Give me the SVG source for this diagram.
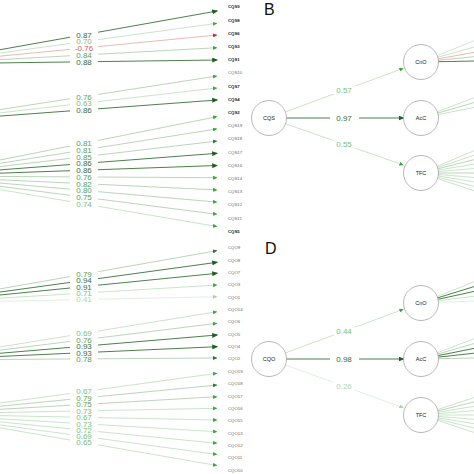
<svg xmlns="http://www.w3.org/2000/svg" width="474" height="474" viewBox="0 0 474 474">
<style>
line{fill:none;stroke-width:0.8}
.d{stroke:#1f5f1f}
.m{stroke:#a9c9a9}
.l{stroke:#bcdcbc}
.v{stroke:#d8ebd8}
.r{stroke:#eaa4a4}
.g{stroke:#cfd8cf}
.ad{marker-end:url(#mk-d)}
.am{marker-end:url(#mk-m)}
.al{marker-end:url(#mk-l)}
.av{marker-end:url(#mk-v)}
.ar{marker-end:url(#mk-r)}
text{font-family:"Liberation Sans",Arial,sans-serif}
.lb{font-size:8px;text-anchor:middle}
.td{fill:#3b6b3b}
.tm{fill:#5a9e5a}
.tl{fill:#7cbd7c}
.tv{fill:#aed6ae}
.tr{fill:#d85c5c}
.it{font-size:4.3px;fill:#666}
.itb{font-size:4.3px;fill:#222;font-weight:bold}
.nd{fill:#fff;stroke:#999;stroke-width:0.7}
.nt{font-size:5.5px;fill:#222;text-anchor:middle}
.pl{font-size:16px;fill:#111}
.bg{fill:#fff}
</style>
<defs>
<marker id="mk-d" viewBox="0 0 10 10" refX="8" refY="5" markerUnits="userSpaceOnUse" markerWidth="6" markerHeight="5" preserveAspectRatio="none" orient="auto"><path d="M0,0 L10,5 L0,10 z" fill="#1f5f1f"/></marker>
<marker id="mk-m" viewBox="0 0 10 10" refX="9" refY="5" markerUnits="userSpaceOnUse" markerWidth="4.5" markerHeight="4" preserveAspectRatio="none" orient="auto"><path d="M0,0 L10,5 L0,10 z" fill="#2e7d2e"/></marker>
<marker id="mk-l" viewBox="0 0 10 10" refX="9" refY="5" markerUnits="userSpaceOnUse" markerWidth="4.5" markerHeight="4" preserveAspectRatio="none" orient="auto"><path d="M0,0 L10,5 L0,10 z" fill="#3aa83a"/></marker>
<marker id="mk-v" viewBox="0 0 10 10" refX="9" refY="5" markerUnits="userSpaceOnUse" markerWidth="4.5" markerHeight="4" preserveAspectRatio="none" orient="auto"><path d="M0,0 L10,5 L0,10 z" fill="#a3d5a3"/></marker>
<marker id="mk-r" viewBox="0 0 10 10" refX="9" refY="5" markerUnits="userSpaceOnUse" markerWidth="4.5" markerHeight="4" preserveAspectRatio="none" orient="auto"><path d="M0,0 L10,5 L0,10 z" fill="#d42a2a"/></marker>
</defs>
<rect width="474" height="474" fill="#fff"/>

<g id="connectors">
<!-- panel A -->
<line x1="-80" y1="64" x2="217" y2="11" class="d ad" stroke-width="1.8"/>
<line x1="-80" y1="64" x2="217" y2="23.3" class="l al"/>
<line x1="-80" y1="64" x2="217" y2="35" class="r ar"/>
<line x1="-80" y1="64" x2="217" y2="47.7" class="m al"/>
<line x1="-80" y1="64" x2="217" y2="60" class="d ad" stroke-width="2.4"/>
<line x1="-80" y1="122" x2="217" y2="76" class="m al"/>
<line x1="-80" y1="122" x2="217" y2="88" class="l al"/>
<line x1="-80" y1="122" x2="217" y2="100" class="d ad" stroke-width="1.5"/>
<line x1="-80" y1="176" x2="217" y2="116.7" class="m al"/>
<line x1="-80" y1="176" x2="217" y2="128.9" class="m al"/>
<line x1="-80" y1="176" x2="217" y2="141.1" class="m am" stroke="#8fb08f"/>
<line x1="-80" y1="176" x2="217" y2="153.3" class="d ad" stroke-width="1.5"/>
<line x1="-80" y1="176" x2="217" y2="165.5" class="d ad" stroke-width="1.5"/>
<line x1="-80" y1="176" x2="217" y2="177.7" class="m al"/>
<line x1="-80" y1="176" x2="217" y2="189.9" class="m al"/>
<line x1="-80" y1="176" x2="217" y2="202.1" class="m al"/>
<line x1="-80" y1="176" x2="217" y2="214.3" class="m al"/>
<line x1="-80" y1="176" x2="217" y2="226.5" class="l al"/>
<!-- panel C -->
<line x1="-80" y1="303" x2="217" y2="250.7" class="m am"/>
<line x1="-80" y1="303" x2="217" y2="262.3" class="d ad" stroke-width="2.5"/>
<line x1="-80" y1="303" x2="217" y2="273.3" class="d ad" stroke-width="2"/>
<line x1="-80" y1="303" x2="217" y2="285" class="l al"/>
<line x1="-80" y1="303" x2="217" y2="296.7" class="v av"/>
<line x1="-80" y1="360" x2="217" y2="311.7" class="l al"/>
<line x1="-80" y1="360" x2="217" y2="323.3" class="m al"/>
<line x1="-80" y1="360" x2="217" y2="335" class="d ad" stroke-width="2.3"/>
<line x1="-80" y1="360" x2="217" y2="346.7" class="d ad" stroke-width="2.3"/>
<line x1="-80" y1="360" x2="217" y2="358" class="m am"/>
<line x1="-80" y1="414" x2="217" y2="373.3" class="l al"/>
<line x1="-80" y1="414" x2="217" y2="385" class="m am"/>
<line x1="-80" y1="414" x2="217" y2="396.7" class="m al"/>
<line x1="-80" y1="414" x2="217" y2="408.3" class="l al"/>
<line x1="-80" y1="414" x2="217" y2="420" class="l al"/>
<line x1="-80" y1="414" x2="217" y2="431.7" class="l al"/>
<line x1="-80" y1="414" x2="217" y2="443.3" class="l al"/>
<line x1="-80" y1="414" x2="217" y2="454.5" class="l al"/>
<line x1="-80" y1="414" x2="217" y2="465.5" class="l al"/>
<!-- panel B -->
<line x1="269" y1="118" x2="403.3" y2="68.3" class="l al"/>
<line x1="269" y1="118" x2="403.3" y2="118" class="d ad" stroke-width="2.6"/>
<line x1="269" y1="118" x2="403.3" y2="165" class="l al"/>
<line x1="421" y1="62" x2="476" y2="40" class="g"/>
<line x1="421" y1="62" x2="476" y2="46.5" class="l"/>
<line x1="421" y1="62" x2="476" y2="52" class="r"/>
<line x1="421" y1="62" x2="476" y2="56.5" class="m"/>
<line x1="421" y1="62" x2="476" y2="61" class="d" stroke-width="1.8"/>
<line x1="421" y1="118" x2="476" y2="97" class="l"/>
<line x1="421" y1="118" x2="476" y2="102" class="m"/>
<line x1="421" y1="118" x2="476" y2="107" class="l"/>
<line x1="421" y1="173" x2="476" y2="150" class="l"/>
<line x1="421" y1="173" x2="476" y2="154.6" class="l"/>
<line x1="421" y1="173" x2="476" y2="159.2" class="m"/>
<line x1="421" y1="173" x2="476" y2="163.8" class="l"/>
<line x1="421" y1="173" x2="476" y2="168.4" class="l"/>
<line x1="421" y1="173" x2="476" y2="173" class="m"/>
<line x1="421" y1="173" x2="476" y2="177.6" class="l"/>
<line x1="421" y1="173" x2="476" y2="182.2" class="l"/>
<line x1="421" y1="173" x2="476" y2="186.8" class="l"/>
<line x1="421" y1="173" x2="476" y2="191.4" class="l"/>
<!-- panel D -->
<line x1="269" y1="359" x2="403.3" y2="309.3" class="l al"/>
<line x1="269" y1="359" x2="403.3" y2="359" class="d ad" stroke-width="2.7"/>
<line x1="269" y1="359" x2="403.3" y2="407.7" class="v av"/>
<line x1="421" y1="303" x2="476" y2="281" class="l"/>
<line x1="421" y1="303" x2="476" y2="286" class="d" stroke-width="2.2"/>
<line x1="421" y1="303" x2="476" y2="291" class="d" stroke-width="1.8"/>
<line x1="421" y1="303" x2="476" y2="296" class="l"/>
<line x1="421" y1="303" x2="476" y2="301" class="v"/>
<line x1="421" y1="359" x2="476" y2="338" class="l"/>
<line x1="421" y1="359" x2="476" y2="343" class="m"/>
<line x1="421" y1="359" x2="476" y2="348" class="d" stroke-width="2"/>
<line x1="421" y1="359" x2="476" y2="353" class="d" stroke-width="2"/>
<line x1="421" y1="359" x2="476" y2="358" class="m"/>
<line x1="421" y1="415" x2="476" y2="397" class="l"/>
<line x1="421" y1="415" x2="476" y2="401.5" class="m"/>
<line x1="421" y1="415" x2="476" y2="406" class="l"/>
<line x1="421" y1="415" x2="476" y2="410.5" class="l"/>
<line x1="421" y1="415" x2="476" y2="415" class="l"/>
<line x1="421" y1="415" x2="476" y2="419.5" class="l"/>
<line x1="421" y1="415" x2="476" y2="424" class="l"/>
<line x1="421" y1="415" x2="476" y2="428.5" class="l"/>
<line x1="421" y1="415" x2="476" y2="433" class="l"/>
</g>

<g id="edge-labels">
<g class="bg">
<rect x="70" y="31" width="28" height="34.5"/>
<rect x="70" y="93" width="28" height="20.5"/>
<rect x="70" y="139.7" width="28" height="67.8"/>
<rect x="70" y="270.5" width="28" height="32.6"/>
<rect x="70" y="329.7" width="28" height="32.8"/>
<rect x="70" y="387.9" width="28" height="58.1"/>
<rect x="330" y="86.3" width="29" height="7.8"/>
<rect x="330" y="114.1" width="29" height="7.8"/>
<rect x="330" y="140.4" width="29" height="7.8"/>
<rect x="330" y="327.3" width="29" height="7.8"/>
<rect x="330" y="355.1" width="29" height="7.8"/>
<rect x="330" y="382.3" width="29" height="7.8"/>
</g>
<text class="lb td" x="84" y="37.6">0.87</text>
<text class="lb tl" x="84" y="44.4">0.70</text>
<text class="lb tr" x="84" y="50.9">-0.76</text>
<text class="lb tm" x="84" y="57.9">0.84</text>
<text class="lb td" x="84" y="64.7">0.88</text>
<text class="lb tm" x="84" y="99.5">0.76</text>
<text class="lb tl" x="84" y="106.1">0.63</text>
<text class="lb td" x="84" y="112.8">0.86</text>
<text class="lb tm" x="84" y="146.2">0.81</text>
<text class="lb tm" x="84" y="152.9">0.81</text>
<text class="lb tm" x="84" y="159.6">0.85</text>
<text class="lb td" x="84" y="166.4">0.86</text>
<text class="lb td" x="84" y="173.1">0.86</text>
<text class="lb tm" x="84" y="179.8">0.76</text>
<text class="lb tm" x="84" y="186.6">0.82</text>
<text class="lb tm" x="84" y="193.3">0.80</text>
<text class="lb tm" x="84" y="200">0.75</text>
<text class="lb tl" x="84" y="206.8">0.74</text>
<text class="lb tm" x="84" y="277">0.79</text>
<text class="lb td" x="84" y="283.4">0.94</text>
<text class="lb td" x="84" y="289.5">0.91</text>
<text class="lb tl" x="84" y="296">0.71</text>
<text class="lb tv" x="84" y="302.4">0.41</text>
<text class="lb tl" x="84" y="336.2">0.69</text>
<text class="lb tm" x="84" y="342.6">0.76</text>
<text class="lb td" x="84" y="349.1">0.93</text>
<text class="lb td" x="84" y="355.6">0.93</text>
<text class="lb tm" x="84" y="361.8">0.78</text>
<text class="lb tl" x="84" y="394.4">0.67</text>
<text class="lb tm" x="84" y="400.9">0.79</text>
<text class="lb tm" x="84" y="407.4">0.75</text>
<text class="lb tl" x="84" y="413.8">0.73</text>
<text class="lb tl" x="84" y="420.2">0.67</text>
<text class="lb tl" x="84" y="426.7">0.73</text>
<text class="lb tl" x="84" y="433.1">0.72</text>
<text class="lb tl" x="84" y="439.3">0.69</text>
<text class="lb tl" x="84" y="445.3">0.65</text>
<text class="lb tl" x="344" y="93.1">0.57</text>
<text class="lb td" x="344" y="120.9">0.97</text>
<text class="lb tl" x="344" y="147.2">0.55</text>
<text class="lb tl" x="344" y="334.1">0.44</text>
<text class="lb td" x="344" y="361.9">0.98</text>
<text class="lb tv" x="344" y="389.1">0.26</text>
</g>

<g id="items-A">
<g id="CQS9"><text class="itb" x="228" y="8.3">CQS9</text></g>
<g id="CQS8"><text class="itb" x="228" y="21.5">CQS8</text></g>
<g id="CQS6"><text class="itb" x="228" y="34.7">CQS6</text></g>
<g id="CQS3"><text class="itb" x="228" y="47.9">CQS3</text></g>
<g id="CQS1"><text class="itb" x="228" y="61.1">CQS1</text></g>
<g id="CQS10"><text class="it" x="228" y="74.3">CQS10</text></g>
<g id="CQS7"><text class="itb" x="228" y="87.5">CQS7</text></g>
<g id="CQS4"><text class="itb" x="228" y="100.7">CQS4</text></g>
<g id="CQS2"><text class="itb" x="228" y="113.9">CQS2</text></g>
<g id="CQS19"><text class="it" x="228" y="127.1">CQS19</text></g>
<g id="CQS18"><text class="it" x="228" y="140.3">CQS18</text></g>
<g id="CQS17"><text class="it" x="228" y="153.5">CQS17</text></g>
<g id="CQS16"><text class="it" x="228" y="166.7">CQS16</text></g>
<g id="CQS14"><text class="it" x="228" y="179.9">CQS14</text></g>
<g id="CQS13"><text class="it" x="228" y="193.1">CQS13</text></g>
<g id="CQS12"><text class="it" x="228" y="206.3">CQS12</text></g>
<g id="CQS11"><text class="it" x="228" y="219.5">CQS11</text></g>
<g id="CQS5"><text class="itb" x="228" y="232.7">CQS5</text></g>
</g>

<g id="items-C">
<g id="CQO9"><text class="it" x="228" y="249.3">CQO9</text></g>
<g id="CQO8"><text class="it" x="228" y="261.6">CQO8</text></g>
<g id="CQO7"><text class="it" x="228" y="274">CQO7</text></g>
<g id="CQO3"><text class="it" x="228" y="286.3">CQO3</text></g>
<g id="CQO1"><text class="it" x="228" y="298.7">CQO1</text></g>
<g id="CQO14"><text class="it" x="228" y="311">CQO14</text></g>
<g id="CQO6"><text class="it" x="228" y="323.4">CQO6</text></g>
<g id="CQO5"><text class="it" x="228" y="335.7">CQO5</text></g>
<g id="CQO4"><text class="it" x="228" y="348.1">CQO4</text></g>
<g id="CQO2"><text class="it" x="228" y="360.4">CQO2</text></g>
<g id="CQO19"><text class="it" x="228" y="372.8">CQO19</text></g>
<g id="CQO18"><text class="it" x="228" y="385.1">CQO18</text></g>
<g id="CQO17"><text class="it" x="228" y="397.5">CQO17</text></g>
<g id="CQO16"><text class="it" x="228" y="409.8">CQO16</text></g>
<g id="CQO15"><text class="it" x="228" y="422.2">CQO15</text></g>
<g id="CQO13"><text class="it" x="228" y="434.5">CQO13</text></g>
<g id="CQO12"><text class="it" x="228" y="446.9">CQO12</text></g>
<g id="CQO11"><text class="it" x="228" y="459.2">CQO11</text></g>
<g id="CQO10"><text class="it" x="228" y="471.6">CQO10</text></g>
</g>

<text class="pl" x="264" y="15">B</text>
<text class="pl" x="265" y="253.5">D</text>

<g id="B-CQS"><circle class="nd" cx="269" cy="118" r="17.5"/><text class="nt" x="269" y="120">CQS</text></g>
<g id="B-CnO"><circle class="nd" cx="421" cy="62" r="17.5"/><text class="nt" x="421" y="64">CnO</text></g>
<g id="B-AcC"><circle class="nd" cx="421" cy="118" r="17.5"/><text class="nt" x="421" y="120">AcC</text></g>
<g id="B-TFC"><circle class="nd" cx="421" cy="173" r="17.5"/><text class="nt" x="421" y="175">TFC</text></g>
<g id="D-CQO"><circle class="nd" cx="269" cy="359" r="17.5"/><text class="nt" x="269" y="361">CQO</text></g>
<g id="D-CnO"><circle class="nd" cx="421" cy="303" r="17.5"/><text class="nt" x="421" y="305">CnO</text></g>
<g id="D-AcC"><circle class="nd" cx="421" cy="359" r="17.5"/><text class="nt" x="421" y="361">AcC</text></g>
<g id="D-TFC"><circle class="nd" cx="421" cy="415" r="17.5"/><text class="nt" x="421" y="417">TFC</text></g>
</svg>
